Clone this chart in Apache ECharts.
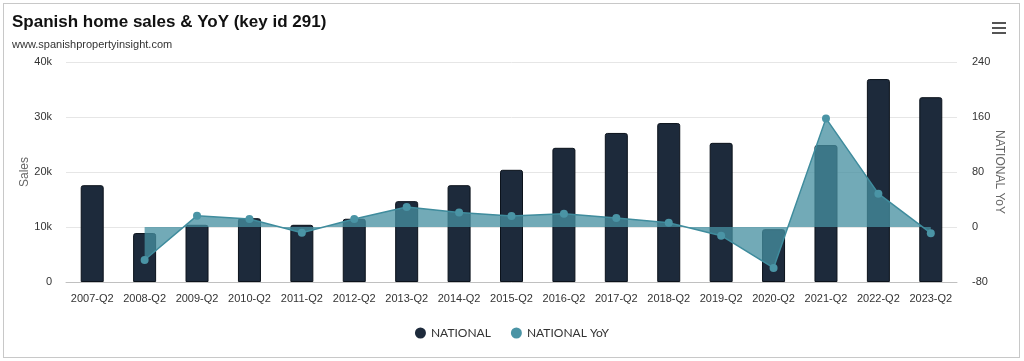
<!DOCTYPE html>
<html>
<head>
<meta charset="utf-8">
<script src="https://cdn.jsdelivr.net/npm/echarts@6/dist/echarts.min.js"></script>
<style>
html,body{margin:0;padding:0;background:#fff;}
#frame{position:absolute;left:3px;top:3px;width:1015px;height:353px;border:1px solid #c8c8c8;box-sizing:content-box;}
#chart{position:absolute;left:0;top:0;width:1024px;height:361px;}
</style>
</head>
<body>
<div id="frame"></div>
<div id="chart"></div>
<script>
const categories = ['2007-Q2','2008-Q2','2009-Q2','2010-Q2','2011-Q2','2012-Q2','2013-Q2','2014-Q2','2015-Q2','2016-Q2','2017-Q2','2018-Q2','2019-Q2','2020-Q2','2021-Q2','2022-Q2','2023-Q2'];
const salesValues = [17600, 8900, 10400, 11600, 10400, 11500, 14700, 17600, 20400, 24400, 27100, 28900, 25300, 9600, 24900, 36900, 33600];
const yoyValues = [null, -48, 16.5, 11.6, -8.3, 11.6, 29, 21, 16, 19.4, 13, 6.3, -12.6, -59.6, 158, 48.5, -9];
const salesTicks = {min: 0, max: 40000, interval: 10000};
const yoyTicks = {min: -80, max: 240, interval: 80};

const chart = echarts.init(document.getElementById('chart'), null, {renderer: 'canvas'});
const font = '"Liberation Sans", Arial, Helvetica, sans-serif';
chart.setOption({
  animation: false,
  textStyle: {fontFamily: font},
  title: {
    text: 'Spanish home sales & YoY (key id 291)',
    subtext: 'www.spanishpropertyinsight.com',
    left: 7, top: 9, itemGap: 8,
    textStyle: {fontFamily: font, fontSize: 17, fontWeight: 'bold', color: '#111'},
    subtextStyle: {fontFamily: font, fontSize: 11, color: '#333'}
  },
  graphic: [
    {type: 'rect', left: 992, top: 22, shape: {width: 14, height: 2}, style: {fill: '#555'}},
    {type: 'rect', left: 992, top: 27, shape: {width: 14, height: 2}, style: {fill: '#555'}},
    {type: 'rect', left: 992, top: 32, shape: {width: 14, height: 2}, style: {fill: '#555'}}
  ],
  legend: {
    bottom: 17, left: 'center', itemGap: 20, itemWidth: 11, itemHeight: 11,
    icon: 'circle',
    itemStyle: {borderWidth: 0},
    textStyle: {fontFamily: 'Lato, ' + font, fontSize: 12, color: '#333'},
    data: ['NATIONAL', 'NATIONAL YoY']
  },
  grid: {left: 66, right: 67, top: 62, bottom: 79, containLabel: false},
  xAxis: {
    type: 'category', data: categories,
    axisLine: {lineStyle: {color: '#c0c0c0', width: 1}},
    axisTick: {show: false},
    axisLabel: {color: '#333', fontSize: 11, fontFamily: font, interval: 0, margin: 11}
  },
  yAxis: [
    {
      type: 'value', name: 'Sales', nameLocation: 'middle', nameGap: 35, nameRotate: 90,
      nameMoveOverlap: false,
      nameTextStyle: {color: '#666', fontSize: 12, fontFamily: font},
      min: salesTicks.min, max: salesTicks.max, interval: salesTicks.interval,
      axisLine: {show: false}, axisTick: {show: false},
      axisLabel: {color: '#333', fontSize: 11, fontFamily: font, margin: 14,
        formatter: v => v === 0 ? '0' : (v / 1000) + 'k'},
      splitLine: {lineStyle: {color: '#e6e6e6'}}
    },
    {
      type: 'value', name: 'NATIONAL YoY', nameLocation: 'middle', nameGap: 36, nameRotate: -90,
      nameMoveOverlap: false,
      nameTextStyle: {color: '#666', fontSize: 12, fontFamily: font},
      min: yoyTicks.min, max: yoyTicks.max, interval: yoyTicks.interval,
      axisLine: {show: false}, axisTick: {show: false},
      axisLabel: {color: '#333', fontSize: 11, fontFamily: font, margin: 15},
      splitLine: {show: false}
    }
  ],
  series: [
    {
      name: 'NATIONAL', type: 'bar', yAxisIndex: 0, data: salesValues,
      barWidth: 23,
      itemStyle: {color: '#1d2a3b', borderColor: '#0b121b', borderWidth: 1, borderRadius: [2, 2, 0, 0]},
      z: 2
    },
    {
      name: 'NATIONAL YoY', type: 'line', yAxisIndex: 1, data: yoyValues,
      symbol: 'circle', symbolSize: 8, showAllSymbol: true,
      lineStyle: {color: '#3f8c9d', width: 1.5},
      itemStyle: {color: '#4a94a5'},
      areaStyle: {color: 'rgb(70,143,160)', opacity: 0.76, origin: 0},
      z: 3
    }
  ]
});
</script>
</body>
</html>
